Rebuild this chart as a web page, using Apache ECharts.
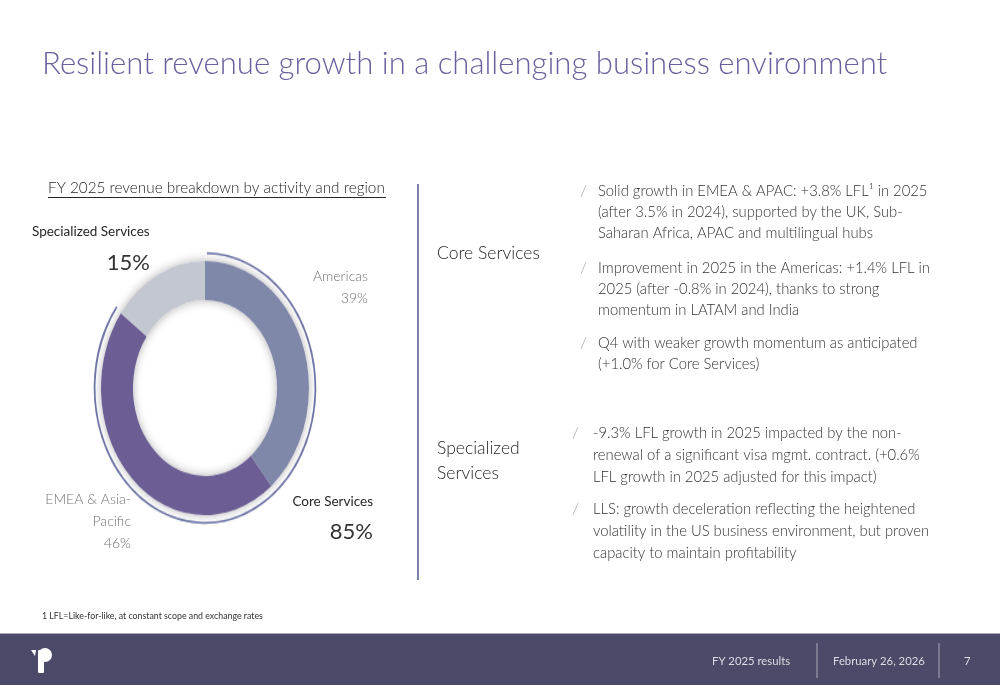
<!DOCTYPE html>
<html>
<head>
<meta charset="utf-8">
<script src="https://cdn.jsdelivr.net/npm/echarts@6/dist/echarts.min.js"></script>
<style>
  html, body { margin: 0; padding: 0; background: #fff; }
  #slide { position: absolute; left: 0; top: 0; width: 1000px; height: 685px; }
  /* the donut in the slide is stretched vertically, so the pie gets squeezed by css */
  #donut { position: absolute; left: 75px; top: 258px; width: 260px; height: 260px;
           transform: scaleY(1.222); transform-origin: 50% 50%; pointer-events: none; }
</style>
</head>
<body>
<div id="slide"></div>
<div id="donut"></div>
<script>
const regionNames = ['Americas', 'EMEA & Asia-Pacific', 'Specialized Services'];
const regionShares = [39, 46, 15];
const activityNames = ['Core Services', 'Specialized Services'];
const activityShares = [85, 15];

const coreBullets = [
  ['Solid growth in EMEA & APAC: +3.8% LFL¹ in 2025', '(after 3.5% in 2024), supported by the UK, Sub-', 'Saharan Africa, APAC and multilingual hubs'],
  ['Improvement in 2025 in the Americas: +1.4% LFL in', '2025 (after -0.8% in 2024), thanks to strong', 'momentum in LATAM and India'],
  ['Q4 with weaker growth momentum as anticipated', '(+1.0% for Core Services)']
];
const specBullets = [
  ['-9.3% LFL growth in 2025 impacted by the non-', 'renewal of a significant visa mgmt. contract. (+0.6%', 'LFL growth in 2025 adjusted for this impact)'],
  ['LLS: growth deceleration reflecting the heightened', 'volatility in the US business environment, but proven', 'capacity to maintain profitability']
];

const FONT = 'Lato, "Open Sans", sans-serif';
const sliceColors = ['#8088aa', '#6c5d94', '#c3c8d0'];
const arcColor = '#6f76a6';

// ---- donut ----
const donut = echarts.init(document.getElementById('donut'));
donut.setOption({
  animation: false,
  series: [
    {
      // plain ring underneath, only to carry the soft shadow
      type: 'pie', silent: true, radius: [72, 104], center: ['50%', '50%'],
      label: { show: false }, labelLine: { show: false },
      itemStyle: { color: '#fff', shadowBlur: 9, shadowColor: 'rgba(0,0,0,0.3)' },
      data: [{ value: 1, name: 'ring' }]
    },
    {
      type: 'pie', silent: true, radius: [72, 104], center: ['50%', '50%'],
      startAngle: 90, clockwise: true,
      label: { show: false }, labelLine: { show: false },
      itemStyle: { borderWidth: 0 },
      data: regionNames.map((n, i) => ({ name: n, value: regionShares[i], itemStyle: { color: sliceColors[i] } }))
    },
    {
      type: 'pie', silent: true, radius: [109.5, 111.3], center: ['50%', '50%'],
      startAngle: 89, clockwise: true,
      label: { show: false }, labelLine: { show: false },
      data: activityNames.map((n, i) => ({
        name: n, value: activityShares[i],
        itemStyle: { color: i === 0 ? arcColor : 'rgba(0,0,0,0)' }
      }))
    }
  ]
});

// ---- slide ----
function txt(x, y, text, size, color, align, extra) {
  return {
    type: 'text', x: x, y: y, silent: true,
    style: Object.assign({
      text: text, fontFamily: FONT, fontSize: size, fill: color,
      align: align || 'left', verticalAlign: 'middle'
    }, extra || {})
  };
}
function bulletBlock(list, slashX, textX, tops, lh) {
  const out = [];
  list.forEach((lines, i) => {
    out.push(txt(slashX, tops[i], '/', 16, '#a6a6a6', 'left', { fontWeight: 300 }));
    out.push({
      type: 'text', x: textX, y: tops[i] - lh / 2, silent: true,
      style: { text: lines.join('\n'), fontFamily: FONT, fontSize: 14.8, fill: '#333333', fontWeight: 300,
               lineHeight: lh, verticalAlign: 'top', align: 'left' }
    });
  });
  return out;
}

const g = [];
g.push(txt(42, 64, 'Resilient revenue growth in a challenging business environment', 31.1, '#6b5f9e', 'left', { fontWeight: 300 }));
g.push(txt(48, 188, 'FY 2025 revenue breakdown by activity and region', 15.3, '#1f1f1f', 'left', { fontWeight: 300 }));
g.push({ type: 'line', silent: true, shape: { x1: 48, y1: 197.5, x2: 386, y2: 197.5 }, style: { stroke: '#262626', lineWidth: 1 } });

// donut labels
g.push(txt(32, 232, activityNames[1], 13.5, '#262626'));
g.push(txt(150, 263, activityShares[1] + '%', 22, '#333333', 'right'));
g.push(txt(368, 276, regionNames[0], 14, '#737373', 'right', { fontWeight: 300 }));
g.push(txt(368, 298, regionShares[0] + '%', 14, '#737373', 'right', { fontWeight: 300 }));
g.push(txt(131, 499, 'EMEA & Asia-', 14, '#737373', 'right', { fontWeight: 300 }));
g.push(txt(131, 521, 'Pacific', 14, '#737373', 'right', { fontWeight: 300 }));
g.push(txt(131, 543, regionShares[1] + '%', 14, '#737373', 'right', { fontWeight: 300 }));
g.push(txt(373, 502, activityNames[0], 13.5, '#262626', 'right'));
g.push(txt(373, 532, activityShares[0] + '%', 22, '#333333', 'right'));

// divider
g.push({ type: 'line', silent: true, shape: { x1: 418, y1: 184, x2: 418, y2: 580 }, style: { stroke: '#7d82ac', lineWidth: 2 } });

g.push(txt(437, 253, 'Core Services', 17.5, '#1f1f1f', 'left', { fontWeight: 300 }));
g.push(txt(437, 448, 'Specialized', 17.5, '#1f1f1f', 'left', { fontWeight: 300 }));
g.push(txt(437, 473, 'Services', 17.5, '#1f1f1f', 'left', { fontWeight: 300 }));
bulletBlock(coreBullets, 580, 598, [191, 268, 343], 21).forEach(e => g.push(e));
bulletBlock(specBullets, 572, 593, [433, 509], 22).forEach(e => g.push(e));

g.push(txt(42, 616, '1 LFL=Like-for-like, at constant scope and exchange rates', 8.8, '#333333'));

// footer band
g.push({ type: 'rect', silent: true, shape: { x: 0, y: 634, width: 1000, height: 51 }, style: { fill: '#4b4b69' } });
g.push({ type: 'line', silent: true, shape: { x1: 0, y1: 633.5, x2: 1000, y2: 633.5 }, style: { stroke: '#a9a9b8', lineWidth: 1 } });
g.push({ type: 'polygon', silent: true, shape: { points: [[31, 650], [36, 650], [35, 656]] }, style: { fill: '#fff' } });
g.push({ type: 'rect', silent: true, shape: { x: 38, y: 650, width: 6, height: 23, r: 1 }, style: { fill: '#fff' } });
g.push({ type: 'circle', silent: true, shape: { cx: 45, cy: 655, r: 7 }, style: { fill: '#fff' } });
g.push(txt(712, 661, 'FY 2025 results', 11.3, '#dcdce6'));
g.push({ type: 'line', silent: true, shape: { x1: 817, y1: 643, x2: 817, y2: 678 }, style: { stroke: '#a8a8bc', lineWidth: 1 } });
g.push(txt(833, 661, 'February 26, 2026', 11.3, '#dcdce6'));
g.push({ type: 'line', silent: true, shape: { x1: 939, y1: 643, x2: 939, y2: 678 }, style: { stroke: '#a8a8bc', lineWidth: 1 } });
g.push(txt(964, 661, '7', 11.3, '#dcdce6'));

const slide = echarts.init(document.getElementById('slide'));
slide.setOption({ animation: false, backgroundColor: '#ffffff', graphic: { elements: g } });
</script>
</body>
</html>
